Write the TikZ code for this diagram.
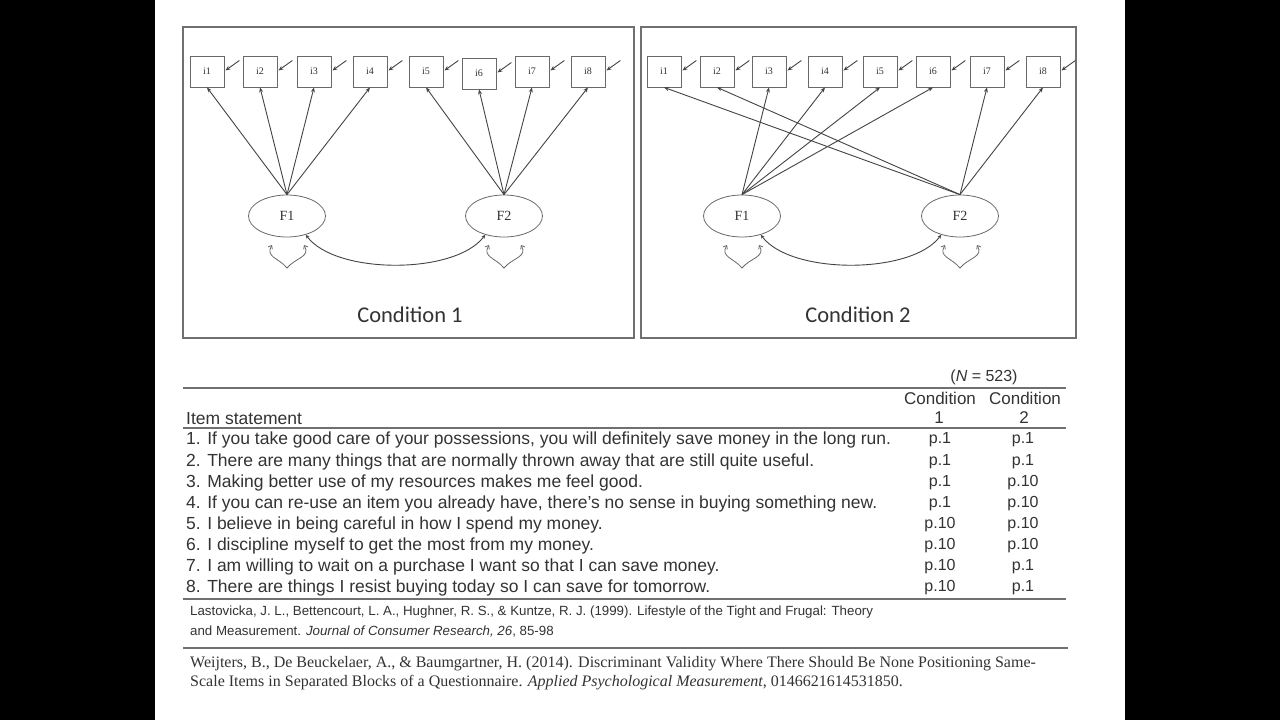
\documentclass[tikz,border=0pt]{standalone}
\usepackage{fontspec}
\setmainfont{Liberation Serif}
\setsansfont{Liberation Sans}
\newfontfamily\calibfont{Carlito}
\usetikzlibrary{arrows.meta,calc,shapes.geometric}
\definecolor{ink}{HTML}{333333}
\definecolor{linec}{HTML}{444444}
\definecolor{rulec}{HTML}{707070}
\tikzset{
  panel/.style={draw=rulec, line width=1.6pt},
  item/.style={draw=linec!80, line width=0.8pt, minimum width=34pt, minimum height=31pt, inner sep=0pt, font=\fontsize{10}{10}\selectfont, text=ink},
  factor/.style={ellipse, draw=linec!80, line width=0.8pt, minimum width=77pt, minimum height=42pt, inner sep=0pt, font=\fontsize{14}{14}\selectfont, text=ink},
  load/.style={draw=linec, line width=0.9pt, -{Stealth[length=5pt,width=4pt]}},
  errarr/.style={draw=linec, line width=0.9pt, -{Stealth[length=5pt,width=4pt]}},
  cov/.style={draw=linec, line width=0.9pt, {Stealth[length=4pt,width=3.5pt]}-{Stealth[length=4pt,width=3.5pt]}},
  varloop/.style={draw=linec!80, line width=0.8pt, {Straight Barb[length=3pt,width=5pt]}-{Straight Barb[length=3pt,width=5pt]}},
  cond/.style={font=\calibfont\fontsize{22.5}{22.5}\selectfont, text=ink},
  row/.style={anchor=west, font=\sffamily\fontsize{17.5}{17.5}\selectfont, text=ink, inner sep=0pt},
  val/.style={font=\sffamily\fontsize{16}{16}\selectfont, text=ink, inner sep=0pt},
  head/.style={font=\sffamily\fontsize{17}{17}\selectfont, text=ink, inner sep=0pt},
  trule/.style={draw=rulec, line width=1.2pt},
  refa/.style={anchor=west, font=\sffamily\fontsize{13.3}{13.3}\selectfont, text=ink, inner sep=0pt},
  refb/.style={anchor=west, font=\fontsize{16}{16}\selectfont, text=ink, inner sep=0pt}
}
\begin{document}
\begin{tikzpicture}[x=1pt,y=-1pt]
\fill[black] (0,0) rectangle (1280,720);
\fill[white] (155,0) rectangle (1125,720);
\useasboundingbox (0,0) rectangle (1280,720);

% ---------- Panel 1 ----------
\draw[panel] (183,27) rectangle (634,338);
\foreach \n/\x/\y in {1/207/71.5,2/260/71.5,3/314/71.5,4/370/71.5,5/426/71.5,6/479/73.5,7/532/71.5,8/588/71.5}{
  \node[item] (a\n) at (\x,\y) {i\n};
  \coordinate (ae\n) at ($(a\n.east)+(15,-11)$);
  \draw[errarr] (ae\n) -- ($(a\n.east)+(1,-1)$);
}
\node[factor] (A1) at (287,216) {F1};
\node[factor] (A2) at (504,216) {F2};
\foreach \n in {1,2,3,4}{\draw[load] (A1.north) -- (a\n.south);}
\foreach \n in {5,6,7,8}{\draw[load] (A2.north) -- (a\n.south);}
\draw[cov] (A1.-45) .. controls +(30,40) and +(-30,40) .. (A2.-135);
\foreach \f in {A1,A2}{
  \coordinate (\f L) at ($(\f.center)+(-15,29)$);
  \coordinate (\f B) at ($(\f.center)+(0,52)$);
  \coordinate (\f R) at ($(\f.center)+(17,29)$);
  \draw[varloop] (\f L) .. controls +(-7,12) and +(-8,-10) .. (\f B) .. controls +(8,-10) and +(7,12) .. (\f R);
}
\node[cond] (c1) at (410,315) {Condition 1};

% ---------- Panel 2 ----------
\draw[panel] (641,27) rectangle (1076,338);
\foreach \n/\x in {1/664,2/717,3/769,4/825,5/880,6/933,7/987,8/1043}{
  \node[item] (b\n) at (\x,71.5) {i\n};
  \coordinate (be\n) at ($(b\n.east)+(15,-11)$);
  \draw[errarr] (be\n) -- ($(b\n.east)+(1,-1)$);
}
\node[factor] (B1) at (742,216) {F1};
\node[factor] (B2) at (960,216) {F2};
\foreach \n in {3,4,5,6}{\draw[load] (B1.north) -- (b\n.south);}
\foreach \n in {1,2,7,8}{\draw[load] (B2.north) -- (b\n.south);}
\draw[cov] (B1.-45) .. controls +(30,40) and +(-30,40) .. (B2.-135);
\foreach \f in {B1,B2}{
  \coordinate (\f L) at ($(\f.center)+(-15,29)$);
  \coordinate (\f B) at ($(\f.center)+(0,52)$);
  \coordinate (\f R) at ($(\f.center)+(17,29)$);
  \draw[varloop] (\f L) .. controls +(-7,12) and +(-8,-10) .. (\f B) .. controls +(8,-10) and +(7,12) .. (\f R);
}
\node[cond] (c2) at (858,315) {Condition 2};

% ---------- Table ----------
\node[val] (nn) at (984,377) {(\textit{N} = 523)};
\draw[trule] (183,388) -- (1066,388);
\node[head] (h1) at (940,398) {Condition};
\node[head] (h2) at (1025,398) {Condition};
\node[head] (h1b) at (939,418) {1};
\node[head] (h2b) at (1024,418) {2};
\node[row] (hs) at (186,419) {Item statement};
\draw[trule] (183,428) -- (1066,428);
\foreach \k/\t/\u/\v [count=\i] in {
 440/{1. If you take good care of your possessions, you will definitely save money in the long run.}/p.1/p.1,
 462/{2. There are many things that are normally thrown away that are still quite useful.}/p.1/p.1,
 483/{3. Making better use of my resources makes me feel good.}/p.1/p.10,
 504/{4. If you can re-use an item you already have, there's no sense in buying something new.}/p.1/p.10,
 525/{5. I believe in being careful in how I spend my money.}/p.10/p.10,
 546/{6. I discipline myself to get the most from my money.}/p.10/p.10,
 567/{7. I am willing to wait on a purchase I want so that I can save money.}/p.10/p.1,
 588/{8. There are things I resist buying today so I can save for tomorrow.}/p.10/p.1}{
  \node[row] (r\i) at (186,\k) {\t};
  \node[val] (p\i) at (940,\k) {\u};
  \node[val] (q\i) at (1023,\k) {\v};
}
\draw[trule] (183,599) -- (1066,599);
\node[refa] (ref1) at (190,612) {Lastovicka, J. L., Bettencourt, L. A., Hughner, R. S., \& Kuntze, R. J. (1999). Lifestyle of the Tight and Frugal: Theory};
\node[refa] (ref2) at (190,632) {and Measurement. \textit{Journal of Consumer Research, 26}, 85-98};
\draw[trule] (183,648) -- (1068,648);
\node[refb] (ref3) at (190,664) {Weijters, B., De Beuckelaer, A., \& Baumgartner, H. (2014). Discriminant Validity Where There Should Be None Positioning Same-};
\node[refb] (ref4) at (190,683) {Scale Items in Separated Blocks of a Questionnaire. \textit{Applied Psychological Measurement}, 0146621614531850.};
\end{tikzpicture}
\end{document}
